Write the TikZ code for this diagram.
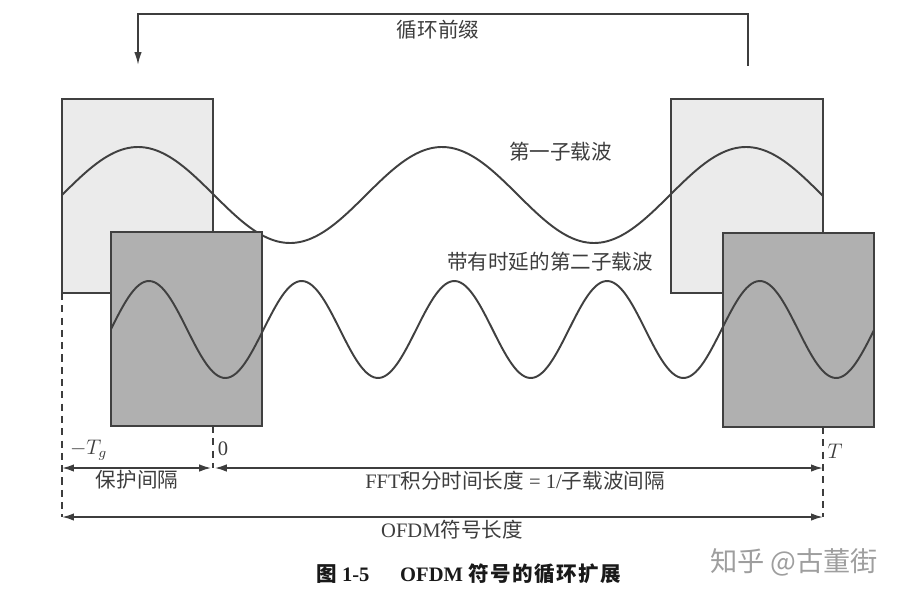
\documentclass[tikz,border=0pt]{standalone}
\usepackage{fontspec}
\setmainfont{Liberation Serif}
\newfontfamily\cjk{Noto Sans CJK SC}
\newfontfamily\cjkwide[LetterSpace=7]{Noto Sans CJK SC}
\usetikzlibrary{arrows.meta}
\definecolor{ink}{gray}{0.24}
\definecolor{lightbox}{gray}{0.92}
\definecolor{darkbox}{gray}{0.69}
\tikzset{
	line/.style={draw=ink, line width=1pt},
	boxline/.style={draw=black!75, line width=1.2pt},
	dim/.style={line, {Latex[length=2.4mm,width=1.5mm]}-{Latex[length=2.4mm,width=1.5mm]}},
	guide/.style={draw=ink, line width=1.1pt, dash pattern=on 4pt off 3pt},
	wave/.style={draw=black!75, line width=1.1pt},
	lab/.style={text=ink, inner sep=0pt, font=\fontsize{11.7}{14}\selectfont}
}

\begin{document}
\begin{tikzpicture}[x=0.02cm, y=-0.02cm]
	\useasboundingbox (0, 0) rectangle (901, 598);

	% named points
	\coordinate (prefixFrom) at (748, 66);
	\coordinate (prefixTopR) at (748, 14);
	\coordinate (prefixTopL) at (138, 14);
	\coordinate (prefixTo) at (138, 65);
	\coordinate (guideLtop) at (62, 293);
	\coordinate (guideL) at (62, 468);
	\coordinate (guideLend) at (62, 517);
	\coordinate (guideMtop) at (213, 426);
	\coordinate (guideM) at (213, 468);
	\coordinate (guideRtop) at (823, 427);
	\coordinate (guideR) at (823, 468);
	\coordinate (guideRend) at (823, 517);

	% light boxes and first carrier
	\draw[boxline, fill=lightbox] (62, 99) rectangle (213, 293);
	\draw[boxline, fill=lightbox] (671, 99) rectangle (823, 293);
	\draw[wave] plot[domain=62:823, samples=220, smooth] (\x, {195-48*sin(360/304*(\x-62))});

	% dark boxes and second carrier
	\draw[boxline, fill=darkbox] (111, 232) rectangle (262, 426);
	\draw[boxline, fill=darkbox] (723, 233) rectangle (874, 427);
	\draw[wave] plot[domain=111:874, samples=300, smooth] (\x, {329.5-48.5*sin(360/152.7*(\x-110.8))});

	% cyclic prefix bracket
	\draw[line, -{Latex[length=2.6mm,width=1.5mm]}] (prefixFrom) -- (prefixTopR) -- (prefixTopL) -- (prefixTo);
	\node[lab] (prefix) at (438, 30) {\cjk 循环前缀};

	\node[lab] (first) at (560.5, 152) {\cjk 第一子载波};
	\node[lab] (second) at (550, 262) {\cjk 带有时延的第二子载波};

	% guides
	\draw[guide] (guideLtop) -- (guideLend);
	\draw[guide] (guideMtop) -- (guideM);
	\draw[guide] (guideRtop) -- (guideRend);

	% dimensions
	\draw[dim] (guideL) -- ([xshift=-1]guideM);
	\draw[dim] ([xshift=1]guideM) -- (guideR);
	\draw[dim] (guideLend) -- (guideRend);

	\node[lab] (tg) at (88.5, 450) {$-T_{g}$};
	\node[lab] (zero) at (223, 449) {0};
	\node[lab] (tend) at (835, 451) {$T$};
	\node[lab] (guard) at (137, 480) {\cjk 保护间隔};
	\node[lab] (fft) at (515, 481) {FFT{\cjk 积分时间长度} = 1/{\cjk 子载波间隔}};
	\node[lab] (ofdm) at (452, 530) {OFDM{\cjk 符号长度}};

	\node[lab, text=black!90, font=\bfseries\fontsize{11.7}{14}\selectfont] (caption) at (468.5, 574) {{\cjk 图} 1-5\hspace{1.5em}OFDM {\cjkwide 符号的循环扩展}};
	\node[lab, text=black!38, font=\cjk\fontsize{15.5}{18}\selectfont] (mark) at (794, 562) {知乎 @古董街};
\end{tikzpicture}
\end{document}
